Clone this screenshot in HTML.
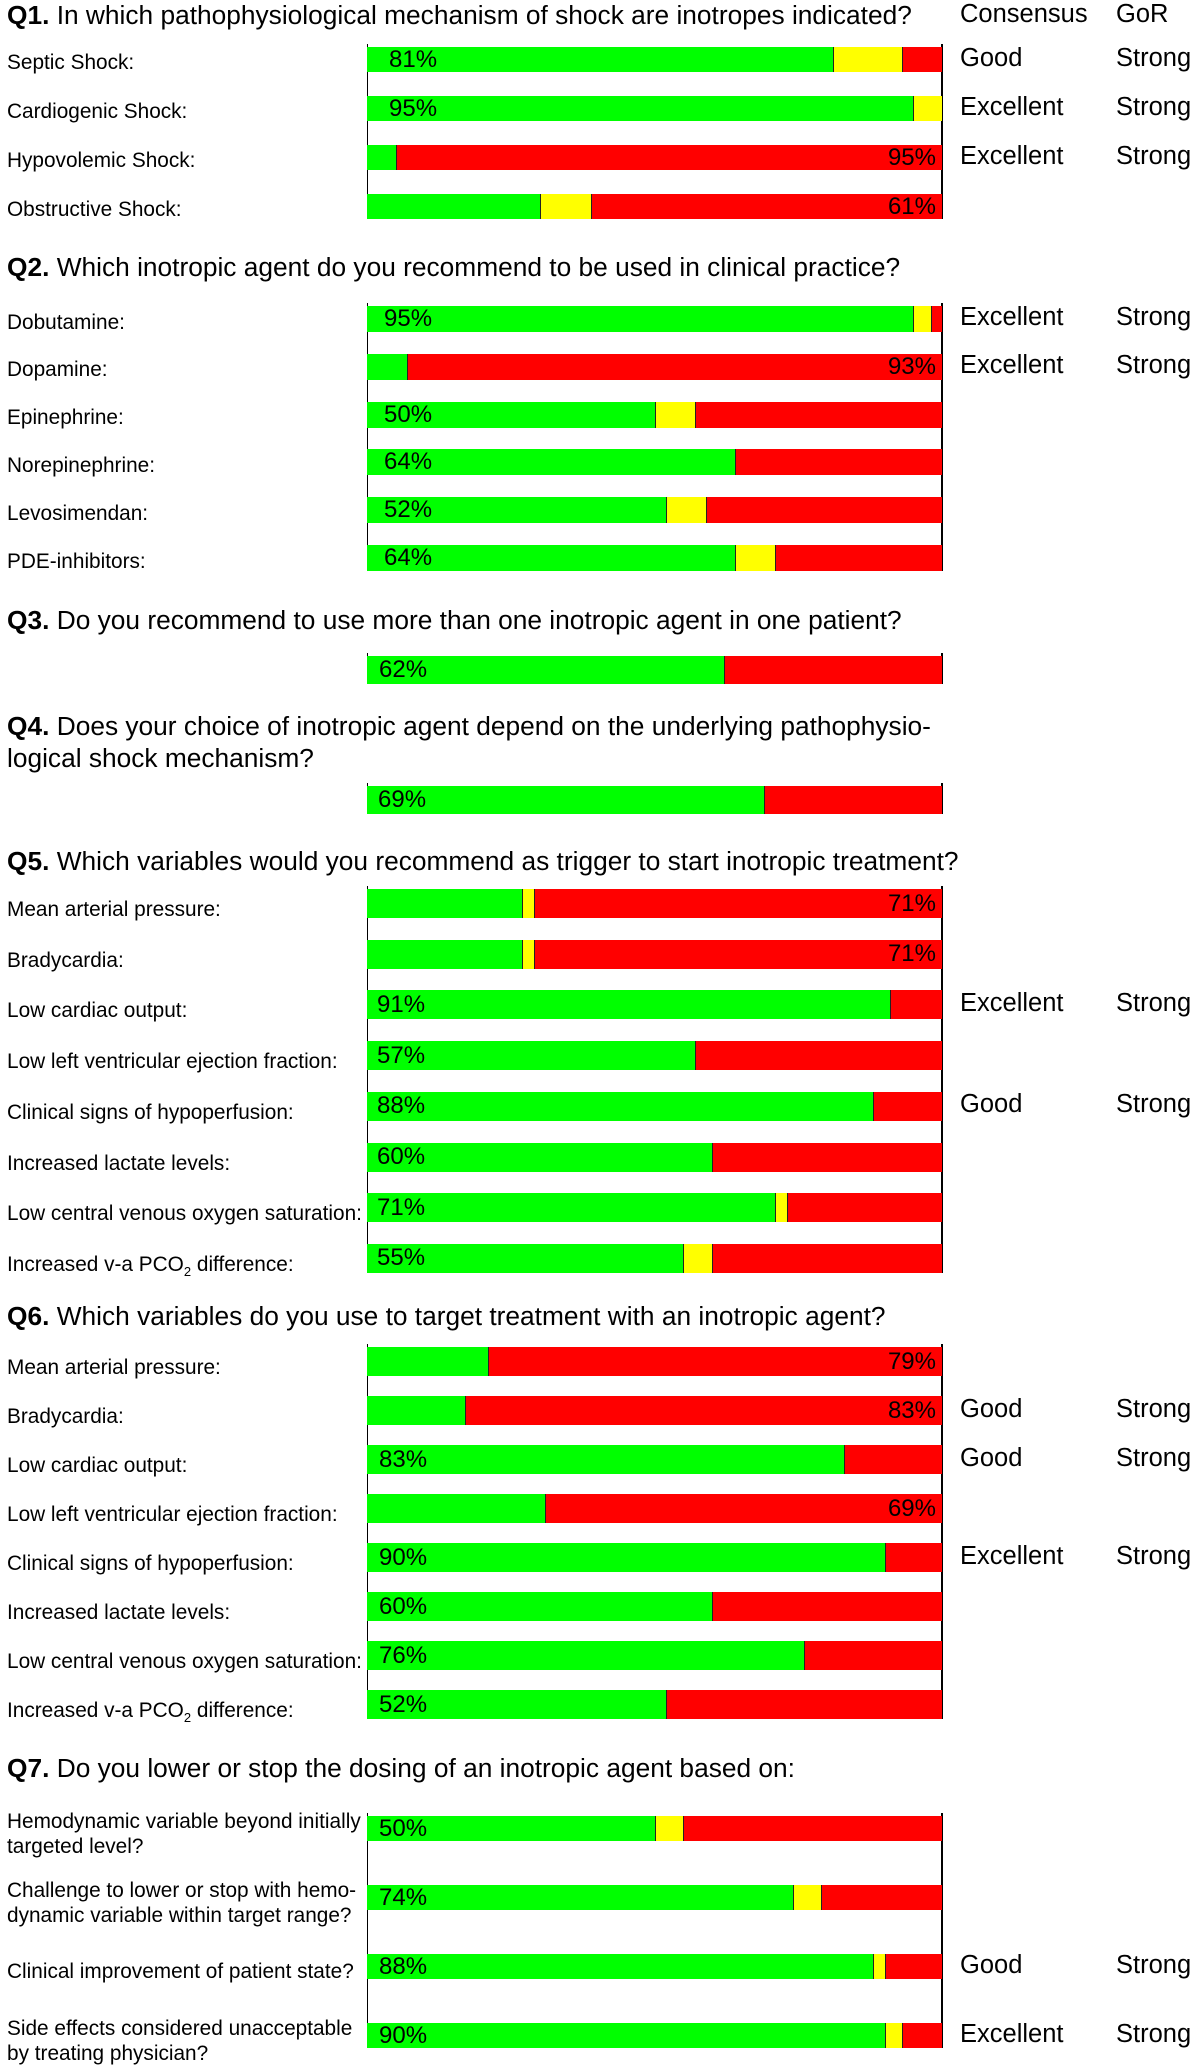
<!DOCTYPE html>
<html><head><meta charset="utf-8">
<style>
html,body{margin:0;padding:0;background:#fff;}
body{width:1200px;height:2056px;position:relative;overflow:hidden;font-family:"Liberation Sans",Arial,sans-serif;color:#000;}
.t{position:absolute;white-space:nowrap;font-size:26.3px;line-height:30px;}
.lbl{position:absolute;left:7px;font-size:20.8px;line-height:25px;white-space:nowrap;}
.rate{position:absolute;font-size:25.5px;line-height:28px;white-space:nowrap;}
.seg{position:absolute;}
.pct{position:absolute;font-size:24px;line-height:26px;white-space:nowrap;}
.axis{position:absolute;width:1.5px;background:#000;}
</style></head>
<body>
<div id="root"></div>
<script>
// ---- data ----
const q1Title = "In which pathophysiological mechanism of shock are inotropes indicated?";
const q1Cats = ["Septic Shock:", "Cardiogenic Shock:", "Hypovolemic Shock:", "Obstructive Shock:"];
const q1Green = [81, 95, 5, 30];
const q1Yellow = [12, 5, 0, 9];
const q1Red = [7, 0, 95, 61];
const q1Consensus = ["Good", "Excellent", "Excellent", ""];
const q1GoR = ["Strong", "Strong", "Strong", ""];

const q2Title = "Which inotropic agent do you recommend to be used in clinical practice?";
const q2Cats = ["Dobutamine:", "Dopamine:", "Epinephrine:", "Norepinephrine:", "Levosimendan:", "PDE-inhibitors:"];
const q2Green = [95, 7, 50, 64, 52, 64];
const q2Yellow = [3, 0, 7, 0, 7, 7];
const q2Red = [2, 93, 43, 36, 41, 29];
const q2Consensus = ["Excellent", "Excellent", "", "", "", ""];
const q2GoR = ["Strong", "Strong", "", "", "", ""];

const q3Title = "Do you recommend to use more than one inotropic agent in one patient?";
const q3Cats = [""];
const q3Green = [62];
const q3Yellow = [0];
const q3Red = [38];
const q3Consensus = [""];
const q3GoR = [""];

const q4Title = "Does your choice of inotropic agent depend on the underlying pathophysio-";
const q4Title2 = "logical shock mechanism?";
const q4Cats = [""];
const q4Green = [69];
const q4Yellow = [0];
const q4Red = [31];
const q4Consensus = [""];
const q4GoR = [""];

const q5Title = "Which variables would you recommend as trigger to start inotropic treatment?";
const q5Cats = ["Mean arterial pressure:", "Bradycardia:", "Low cardiac output:", "Low left ventricular ejection fraction:", "Clinical signs of hypoperfusion:", "Increased lactate levels:", "Low central venous oxygen saturation:", "Increased v-a PCO<sub>2</sub> difference:"];
const q5Green = [27, 27, 91, 57, 88, 60, 71, 55];
const q5Yellow = [2, 2, 0, 0, 0, 0, 2, 5];
const q5Red = [71, 71, 9, 43, 12, 40, 27, 40];
const q5Consensus = ["", "", "Excellent", "", "Good", "", "", ""];
const q5GoR = ["", "", "Strong", "", "Strong", "", "", ""];

const q6Title = "Which variables do you use to target treatment with an inotropic agent?";
const q6Cats = ["Mean arterial pressure:", "Bradycardia:", "Low cardiac output:", "Low left ventricular ejection fraction:", "Clinical signs of hypoperfusion:", "Increased lactate levels:", "Low central venous oxygen saturation:", "Increased v-a PCO<sub>2</sub> difference:"];
const q6Green = [21, 17, 83, 31, 90, 60, 76, 52];
const q6Yellow = [0, 0, 0, 0, 0, 0, 0, 0];
const q6Red = [79, 83, 17, 69, 10, 40, 24, 48];
const q6Consensus = ["", "Good", "Good", "", "Excellent", "", "", ""];
const q6GoR = ["", "Strong", "Strong", "", "Strong", "", "", ""];

const q7Title = "Do you lower or stop the dosing of an inotropic agent based on:";
const q7Cats = ["Hemodynamic variable beyond initially<br>targeted level?", "Challenge to lower or stop with hemo-<br>dynamic variable within target range?", "Clinical improvement of patient state?", "Side effects considered unacceptable<br>by treating physician?"];
const q7Green = [50, 74, 88, 90];
const q7Yellow = [5, 5, 2, 3];
const q7Red = [45, 21, 10, 7];
const q7Consensus = ["", "", "Good", "Excellent"];
const q7GoR = ["", "", "Strong", "Strong"];

// ---- layout (not data) ----
const X0 = 367, X1 = 942;
const xScale = v => X0 + (X1 - X0) * v / 100;
const root = document.getElementById('root');

function addTitle(num, text, y, withNum) {
  const d = document.createElement('div');
  d.className = 't';
  d.style.left = '7px';
  d.style.top = (y - 15) + 'px';
  d.innerHTML = (withNum ? '<b>' + num + '.</b> ' : '') + text;
  
  
  root.appendChild(d);
}

function drawQ(key, title, cats, green, yellow, red, cons, gor, lay) {
  addTitle(key, title, lay.titleY, true);
  const n = cats.length;
  const tops = [];
  for (let i = 0; i < n; i++) tops.push(lay.top + i * lay.step);
  const axTop = tops[0] - 3, axBot = tops[n - 1] + lay.h;
  [X0, X1].forEach((ax, k) => {
    const a = document.createElement('div');
    a.className = 'axis';
    a.style.left = (ax - (k ? 1 : 0.5)) + 'px';
    a.style.top = axTop + 'px';
    a.style.height = (axBot - axTop) + 'px';
    
    
    root.appendChild(a);
  });
  for (let i = 0; i < n; i++) {
    const top = tops[i];
    if (cats[i]) {
      const l = document.createElement('div');
      l.className = 'lbl';
      l.innerHTML = cats[i].replace('<sub>', '<sub style="font-size:13px">');
      const lines = cats[i].split('<br>').length;
      l.style.top = (top + lay.h / 2 - (lines * 25) / 2 + lay.lblOff) + 'px';
      
      
      root.appendChild(l);
    }
    const vals = [green[i], yellow[i], red[i]];
    const cols = ['#00ff00', '#ffff00', '#ff0000'];
    const names = ['agree', 'neutral', 'disagree'];
    let acc = 0;
    for (let s = 0; s < 3; s++) {
      if (vals[s] <= 0) continue;
      const x0 = xScale(acc), x1 = xScale(Math.min(100, acc + vals[s]));
      const b = document.createElement('div');
      b.className = 'seg';
      b.style.left = x0 + 'px';
      b.style.width = (x1 - x0) + 'px';
      b.style.top = top + 'px';
      b.style.height = lay.h + 'px';
      b.style.background = cols[s];
      if (acc > 0) b.style.borderLeft = '1.5px solid #222';
      b.style.boxSizing = 'border-box';
      
      
      root.appendChild(b);
      acc += vals[s];
    }
    const p = document.createElement('div');
    p.className = 'pct';
    p.style.top = (top + lay.h / 2 - 13) + 'px';
    if (green[i] >= red[i]) {
      p.style.left = (X0 + lay.inset) + 'px';
      p.textContent = green[i] + '%';
    } else {
      p.style.right = (1200 - X1 + 6) + 'px';
      p.textContent = red[i] + '%';
    }
    
    
    root.appendChild(p);
    if (cons[i]) {
      const c = document.createElement('div');
      c.className = 'rate';
      c.style.left = '960px';
      c.style.top = (top + lay.h / 2 - 16) + 'px';
      c.textContent = cons[i];
      
      
      root.appendChild(c);
    }
    if (gor[i]) {
      const g = document.createElement('div');
      g.className = 'rate';
      g.style.left = '1116px';
      g.style.top = (top + lay.h / 2 - 16) + 'px';
      g.textContent = gor[i];
      
      
      root.appendChild(g);
    }
  }
}

// header
const hc = document.createElement('div');
hc.className = 'rate'; hc.style.left = '960px'; hc.style.top = '0px';
hc.textContent = 'Consensus';


root.appendChild(hc);
const hg = document.createElement('div');
hg.className = 'rate'; hg.style.left = '1116px'; hg.style.top = '0px';
hg.textContent = 'GoR';


root.appendChild(hg);

drawQ('Q1', q1Title, q1Cats, q1Green, q1Yellow, q1Red, q1Consensus, q1GoR, {titleY: 15, top: 47, step: 49, h: 25, lblOff: 3, inset: 22});
drawQ('Q2', q2Title, q2Cats, q2Green, q2Yellow, q2Red, q2Consensus, q2GoR, {titleY: 267, top: 306, step: 47.8, h: 26, lblOff: 3, inset: 17});
drawQ('Q3', q3Title, q3Cats, q3Green, q3Yellow, q3Red, q3Consensus, q3GoR, {titleY: 620, top: 656, step: 48, h: 28, lblOff: 3, inset: 12});
drawQ('Q4', q4Title, q4Cats, q4Green, q4Yellow, q4Red, q4Consensus, q4GoR, {titleY: 726, top: 786, step: 48, h: 28, lblOff: 3, inset: 11});
addTitle('Q4b', q4Title2, 758, false);
drawQ('Q5', q5Title, q5Cats, q5Green, q5Yellow, q5Red, q5Consensus, q5GoR, {titleY: 861, top: 889, step: 50.7, h: 29, lblOff: 6, inset: 10});
drawQ('Q6', q6Title, q6Cats, q6Green, q6Yellow, q6Red, q6Consensus, q6GoR, {titleY: 1316, top: 1347, step: 49, h: 29, lblOff: 6, inset: 12});
drawQ('Q7', q7Title, q7Cats, q7Green, q7Yellow, q7Red, q7Consensus, q7GoR, {titleY: 1768, top: 1816, step: 69, h: 25, lblOff: 5, inset: 12});
</script>
</body></html>
